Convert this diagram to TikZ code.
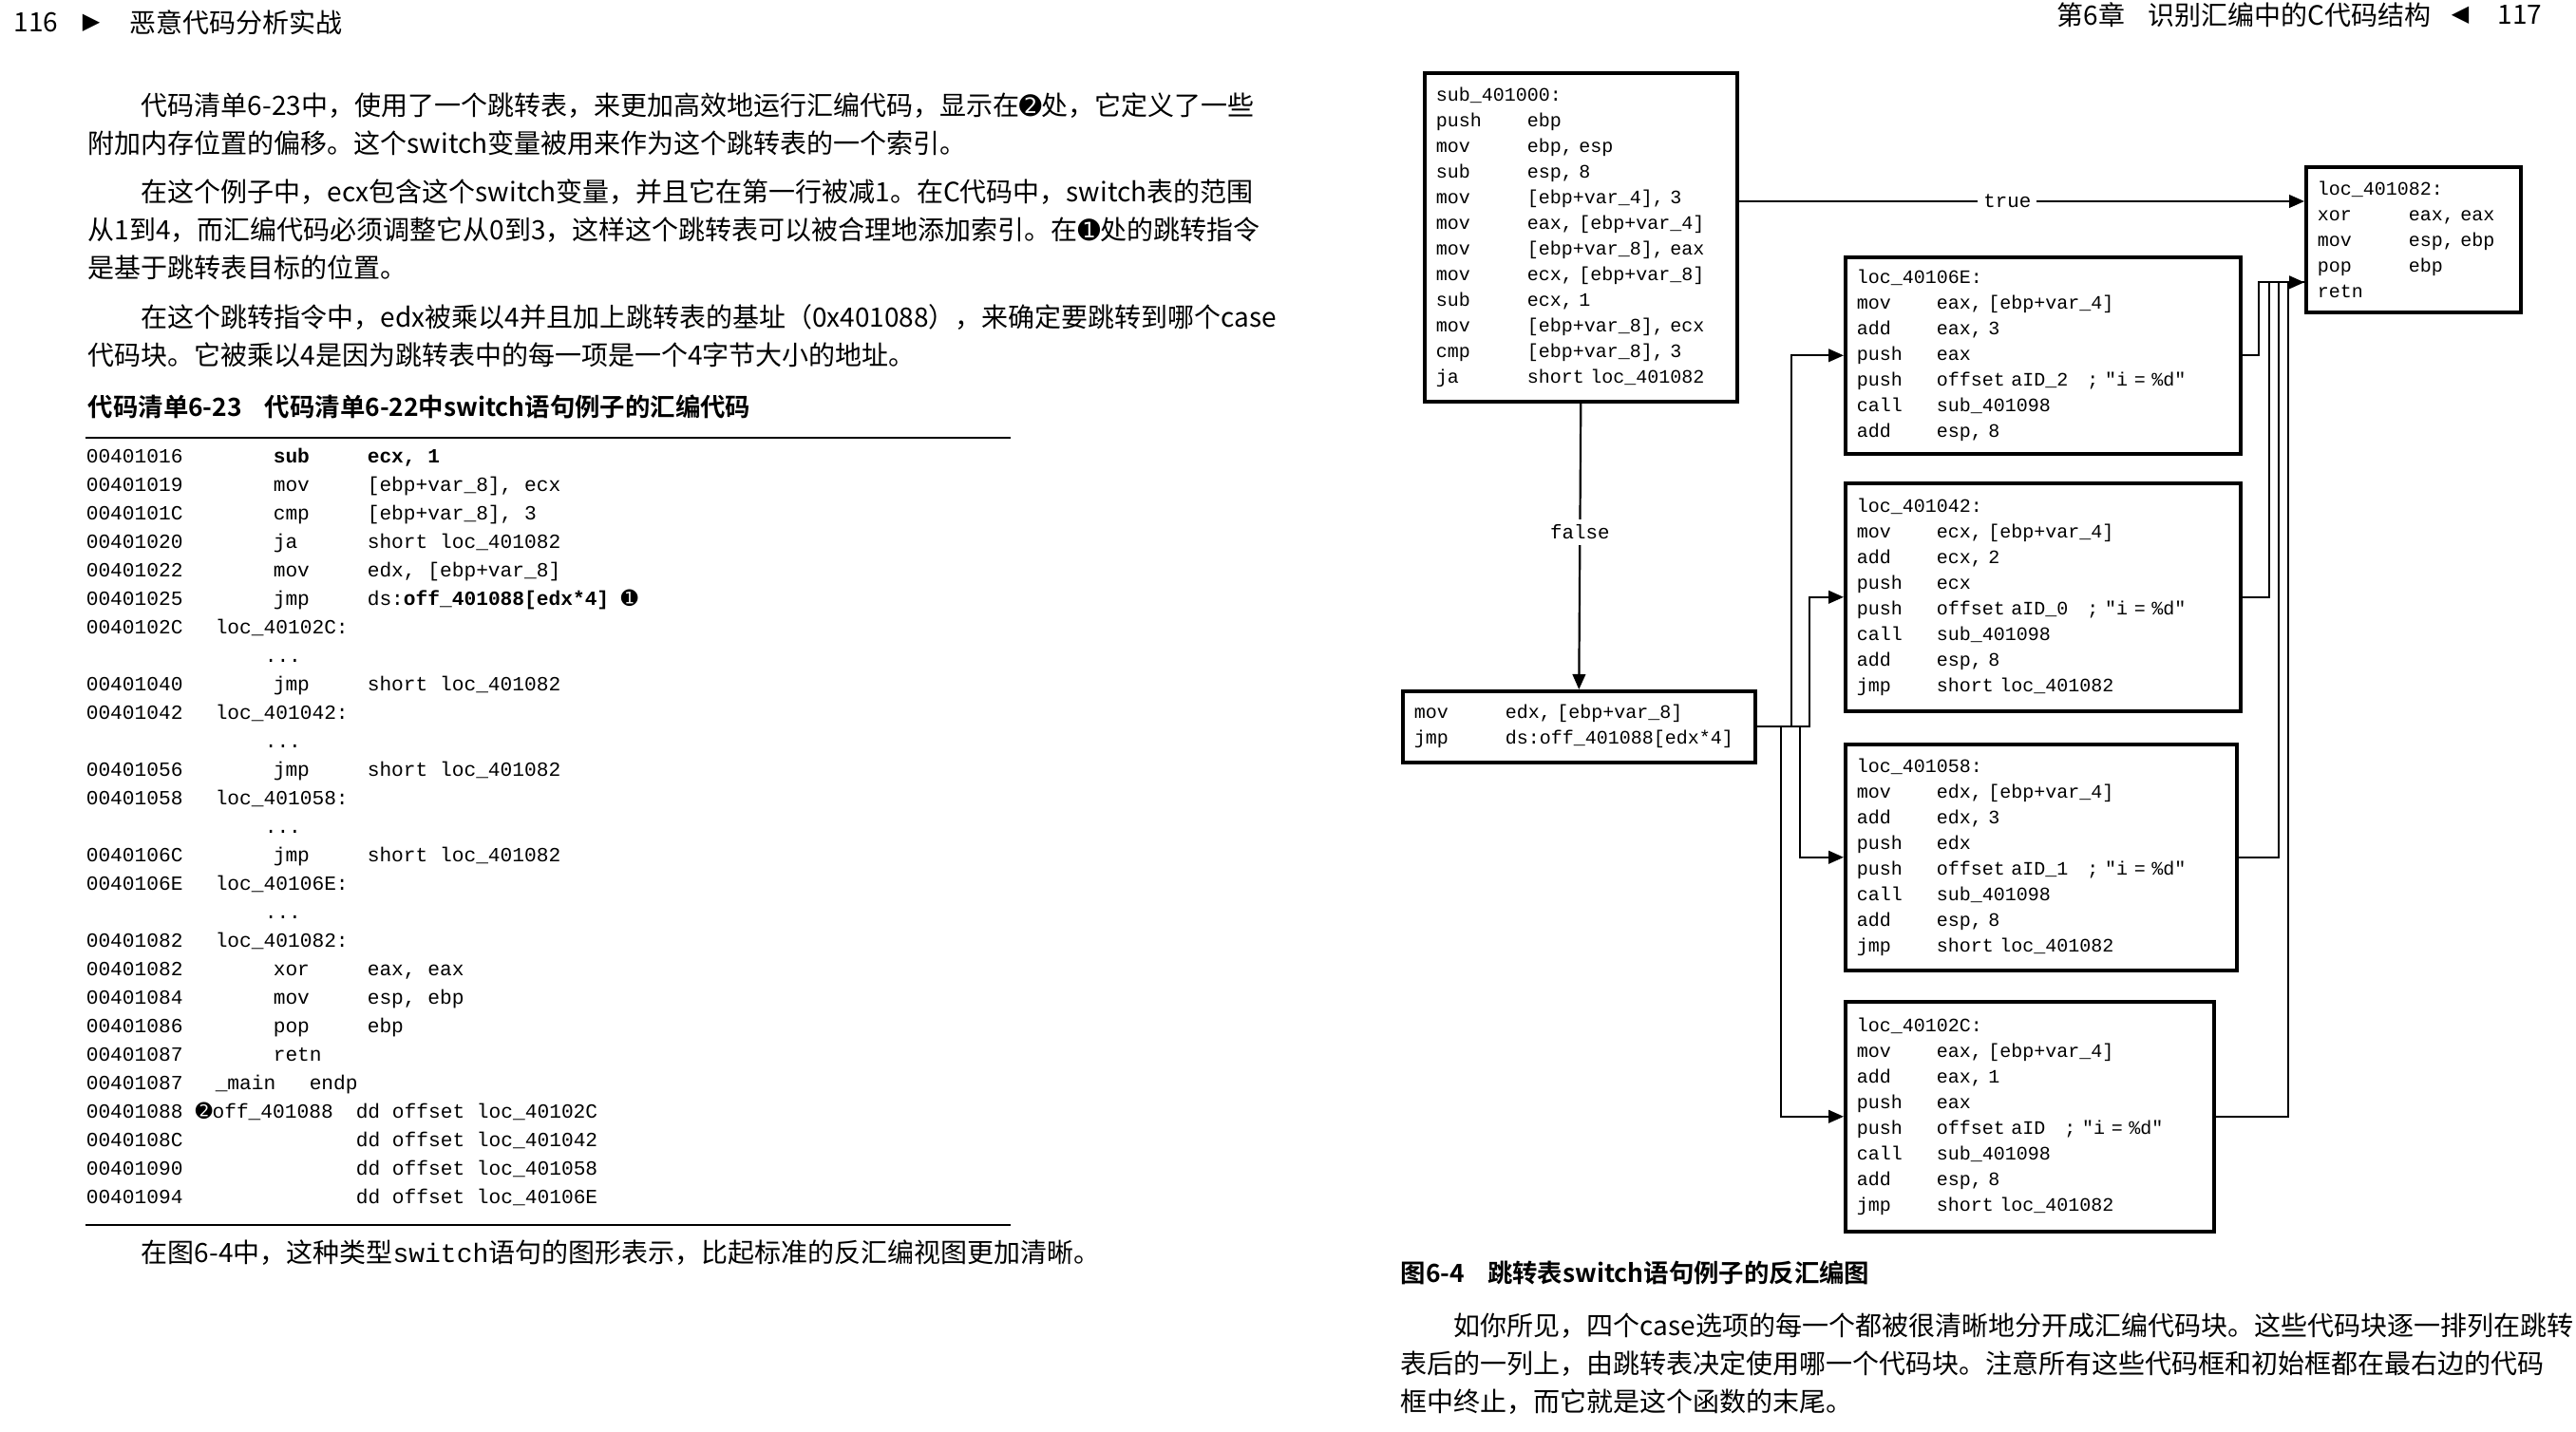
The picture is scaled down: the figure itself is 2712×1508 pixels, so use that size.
\documentclass[tikz,border=0pt]{standalone}
\usepackage{fontspec}
\usetikzlibrary{arrows.meta,calc}
\setmainfont{Noto Sans CJK SC}
\newfontfamily\cf{Liberation Mono}
\newfontfamily\dvs{DejaVu Sans}
\newfontfamily\cjkb{Noto Sans CJK SC}[BoldFont={* Bold}]
\XeTeXlinebreaklocale "zh"
\XeTeXlinebreakskip = 0pt plus 3pt
\newcommand\asm[3][8]{\makebox[#1\dimexpr0.6em\relax][l]{#2}#3}
\newcommand\lstl[3]{\makebox[49.25pt][l]{#1}\makebox[24.75pt][l]{#2}#3}
\newcommand\jline[2]{\makebox[#1][s]{#2}}
\begin{document}
\begin{tikzpicture}[x=0.25pt,y=-0.25pt,
 blk/.style={draw, line width=0.9pt, inner xsep=3pt, inner ysep=0pt, align=left, anchor=north west,
   font=\cf\fontsize{5pt}{6.75pt}\selectfont},
 body/.style={anchor=west, inner sep=0pt, font=\fontsize{7pt}{8pt}\selectfont},
 conn/.style={line width=0.55pt, -{Triangle[length=4pt,width=3.4pt]}},
 plain/.style={line width=0.55pt},
 lbl/.style={fill=white, inner sep=1.5pt, font=\cf\fontsize{5.2pt}{6pt}\selectfont}]
\useasboundingbox (0,0) rectangle (2712,1508);
\fill[white] (0,0) rectangle (2712,1508);

% ---------- left page ----------
\node[body] (h116) at (14,24) {116};
\node[body,font=\dvs\fontsize{6pt}{7pt}\selectfont] (tri1) at (86,24) {▶};
\node[body] (hbook) at (136,24) {恶意代码分析实战};

\node[body] (p1a) at (148,111) {\jline{285.75pt}{代码清单6-23中，使用了一个跳转表，来更加高效地运行汇编代码，显示在{\dvs ➋}处，它定义了一些}};
\node[body] (p1b) at (92,151) {附加内存位置的偏移。这个switch变量被用来作为这个跳转表的一个索引。};
\node[body] (p2a) at (148,202) {\jline{285.75pt}{在这个例子中，ecx包含这个switch变量，并且它在第一行被减1。在C代码中，switch表的范围}};
\node[body] (p2b) at (92,242) {\jline{299.75pt}{从1到4，而汇编代码必须调整它从0到3，这样这个跳转表可以被合理地添加索引。在{\dvs ➊}处的跳转指令}};
\node[body] (p2c) at (92,282) {是基于跳转表目标的位置。};
\node[body] (p3a) at (148,334) {\jline{285.75pt}{在这个跳转指令中，edx被乘以4并且加上跳转表的基址（0x401088），来确定要跳转到哪个case}};
\node[body] (p3b) at (92,374) {代码块。它被乘以4是因为跳转表中的每一项是一个4字节大小的地址。};

\node[body,font=\cjkb\bfseries\fontsize{6.6pt}{8pt}\selectfont] (lcap) at (92,428) {代码清单6-23\hspace{6pt}代码清单6-22中switch语句例子的汇编代码};
\coordinate (r1a) at (90,461); \coordinate (r1b) at (1064,461);
\draw[line width=0.7pt] (r1a) -- (r1b);

\node[anchor=north west, inner sep=0pt, align=left, font=\cf\fontsize{5.3pt}{7.5pt}\selectfont] (listing) at (90,471) {%
\lstl{00401016}{\textbf{sub}}{\textbf{ecx, 1}}\\
\lstl{00401019}{mov}{[ebp+var\_8], ecx}\\
\lstl{0040101C}{cmp}{[ebp+var\_8], 3}\\
\lstl{00401020}{ja}{short loc\_401082}\\
\lstl{00401022}{mov}{edx, [ebp+var\_8]}\\
\lstl{00401025}{jmp}{ds:\textbf{off\_401088[edx*4]} {\dvs ➊}}\\
\makebox[34pt][l]{0040102C}loc\_40102C:\\
\hspace*{47pt}...\\
\lstl{00401040}{jmp}{short loc\_401082}\\
\makebox[34pt][l]{00401042}loc\_401042:\\
\hspace*{47pt}...\\
\lstl{00401056}{jmp}{short loc\_401082}\\
\makebox[34pt][l]{00401058}loc\_401058:\\
\hspace*{47pt}...\\
\lstl{0040106C}{jmp}{short loc\_401082}\\
\makebox[34pt][l]{0040106E}loc\_40106E:\\
\hspace*{47pt}...\\
\makebox[34pt][l]{00401082}loc\_401082:\\
\lstl{00401082}{xor}{eax, eax}\\
\lstl{00401084}{mov}{esp, ebp}\\
\lstl{00401086}{pop}{ebp}\\
\lstl{00401087}{retn}{}\\
\makebox[34pt][l]{00401087}\makebox[24.75pt][l]{\_main}endp\\
\makebox[28.75pt][l]{00401088}\makebox[42.25pt][l]{{\dvs ➋}off\_401088}dd offset loc\_40102C\\
\makebox[71pt][l]{0040108C}dd offset loc\_401042\\
\makebox[71pt][l]{00401090}dd offset loc\_401058\\
\makebox[71pt][l]{00401094}dd offset loc\_40106E};
\coordinate (r2a) at (90,1290); \coordinate (r2b) at (1064,1290);
\draw[line width=0.7pt] (r2a) -- (r2b);
\node[body] (pend) at (148,1319) {在图6-4中，这种类型{\cf switch}语句的图形表示，比起标准的反汇编视图更加清晰。};

% ---------- right page ----------
\node[body,anchor=east] (hchap) at (2560,16) {第6章\hspace{6pt}识别汇编中的C代码结构};
\node[body,font=\dvs\fontsize{6pt}{7pt}\selectfont] (tri2) at (2580,16) {◀};
\node[body,anchor=east] (h117) at (2677,16) {117};

\node[blk, text width=76.25pt, minimum height=86.5pt] (A) at (1498,75) {%
sub\_401000:\\
\asm{push}{ebp}\\
\asm{mov}{ebp, esp}\\
\asm{sub}{esp, 8}\\
\asm{mov}{[ebp+var\_4], 3}\\
\asm{mov}{eax, [ebp+var\_4]}\\
\asm{mov}{[ebp+var\_8], eax}\\
\asm{mov}{ecx, [ebp+var\_8]}\\
\asm{sub}{ecx, 1}\\
\asm{mov}{[ebp+var\_8], ecx}\\
\asm{cmp}{[ebp+var\_8], 3}\\
\asm{ja}{short loc\_401082}};

\node[blk, text width=50.5pt, minimum height=38.25pt] (R) at (2426,174) {%
loc\_401082:\\
\asm{xor}{eax, eax}\\
\asm{mov}{esp, ebp}\\
\asm{pop}{ebp}\\
retn};

\node[blk, text width=86.75pt, minimum height=18.75pt] (B) at (1475,726) {%
\asm{mov}{edx, [ebp+var\_8]}\\
\asm{jmp}{ds:off\_401088[edx*4]}};

\node[blk, text width=98pt, minimum height=51.75pt] (C1) at (1941,269) {%
loc\_40106E:\\
\asm[7]{mov}{eax, [ebp+var\_4]}\\
\asm[7]{add}{eax, 3}\\
\asm[7]{push}{eax}\\
\asm[7]{push}{offset aID\_2\ \ \ ; "i = \%d"}\\
\asm[7]{call}{sub\_401098}\\
\asm[7]{add}{esp, 8}};

\node[blk, text width=98pt, minimum height=60pt] (C2) at (1941,507) {%
loc\_401042:\\
\asm[7]{mov}{ecx, [ebp+var\_4]}\\
\asm[7]{add}{ecx, 2}\\
\asm[7]{push}{ecx}\\
\asm[7]{push}{offset aID\_0\ \ \ ; "i = \%d"}\\
\asm[7]{call}{sub\_401098}\\
\asm[7]{add}{esp, 8}\\
\asm[7]{jmp}{short loc\_401082}};

\node[blk, text width=97pt, minimum height=59.5pt] (C3) at (1941,782) {%
loc\_401058:\\
\asm[7]{mov}{edx, [ebp+var\_4]}\\
\asm[7]{add}{edx, 3}\\
\asm[7]{push}{edx}\\
\asm[7]{push}{offset aID\_1\ \ \ ; "i = \%d"}\\
\asm[7]{call}{sub\_401098}\\
\asm[7]{add}{esp, 8}\\
\asm[7]{jmp}{short loc\_401082}};

\node[blk, text width=91pt, minimum height=60.5pt] (C4) at (1941,1053) {%
loc\_40102C:\\
\asm[7]{mov}{eax, [ebp+var\_4]}\\
\asm[7]{add}{eax, 1}\\
\asm[7]{push}{eax}\\
\asm[7]{push}{offset aID\ \ \ ; "i = \%d"}\\
\asm[7]{call}{sub\_401098}\\
\asm[7]{add}{esp, 8}\\
\asm[7]{jmp}{short loc\_401082}};

% connectors
\coordinate (tout) at ($(A.north east)+(0,137)$);
\draw[conn] (tout) -- node[lbl, pos=0.475] (ltrue) {true} (R.west |- tout);
\draw[conn] (A.south) -- node[lbl, pos=0.45] (lfalse) {false} (B.north);

\draw[conn] (B.east) -- ++(25,0) |- (C4.west);
\draw[conn] (B.east) -- ++(36,0) |- (C1.west);
\draw[conn] (B.east) -- ++(45,0) |- (C3.west);
\draw[conn] (B.east) -- ++(55,0) |- (C2.west);

\coordinate (rin) at ($(R.west)+(0,45)$);
\draw[plain] (C1.east) -| ($(rin)+(-48,0)$) -- (rin);
\draw[plain] (C2.east) -| ($(rin)+(-37,0)$) -- (rin);
\draw[plain] (C3.east) -| ($(rin)+(-27,0)$) -- (rin);
\draw[conn] (C4.east) -| ($(rin)+(-17,0)$) -- (rin);

\node[body,font=\cjkb\bfseries\fontsize{6.6pt}{8pt}\selectfont] (fcap) at (1474,1340) {图6-4\hspace{6pt}跳转表switch语句例子的反汇编图};
\node[body] (q1) at (1530,1396) {\jline{285.75pt}{如你所见，四个case选项的每一个都被很清晰地分开成汇编代码块。这些代码块逐一排列在跳转}};
\node[body] (q2) at (1474,1436) {\jline{299.75pt}{表后的一列上，由跳转表决定使用哪一个代码块。注意所有这些代码框和初始框都在最右边的代码}};
\node[body] (q3) at (1474,1476) {框中终止，而它就是这个函数的末尾。};
\end{tikzpicture}
\end{document}
